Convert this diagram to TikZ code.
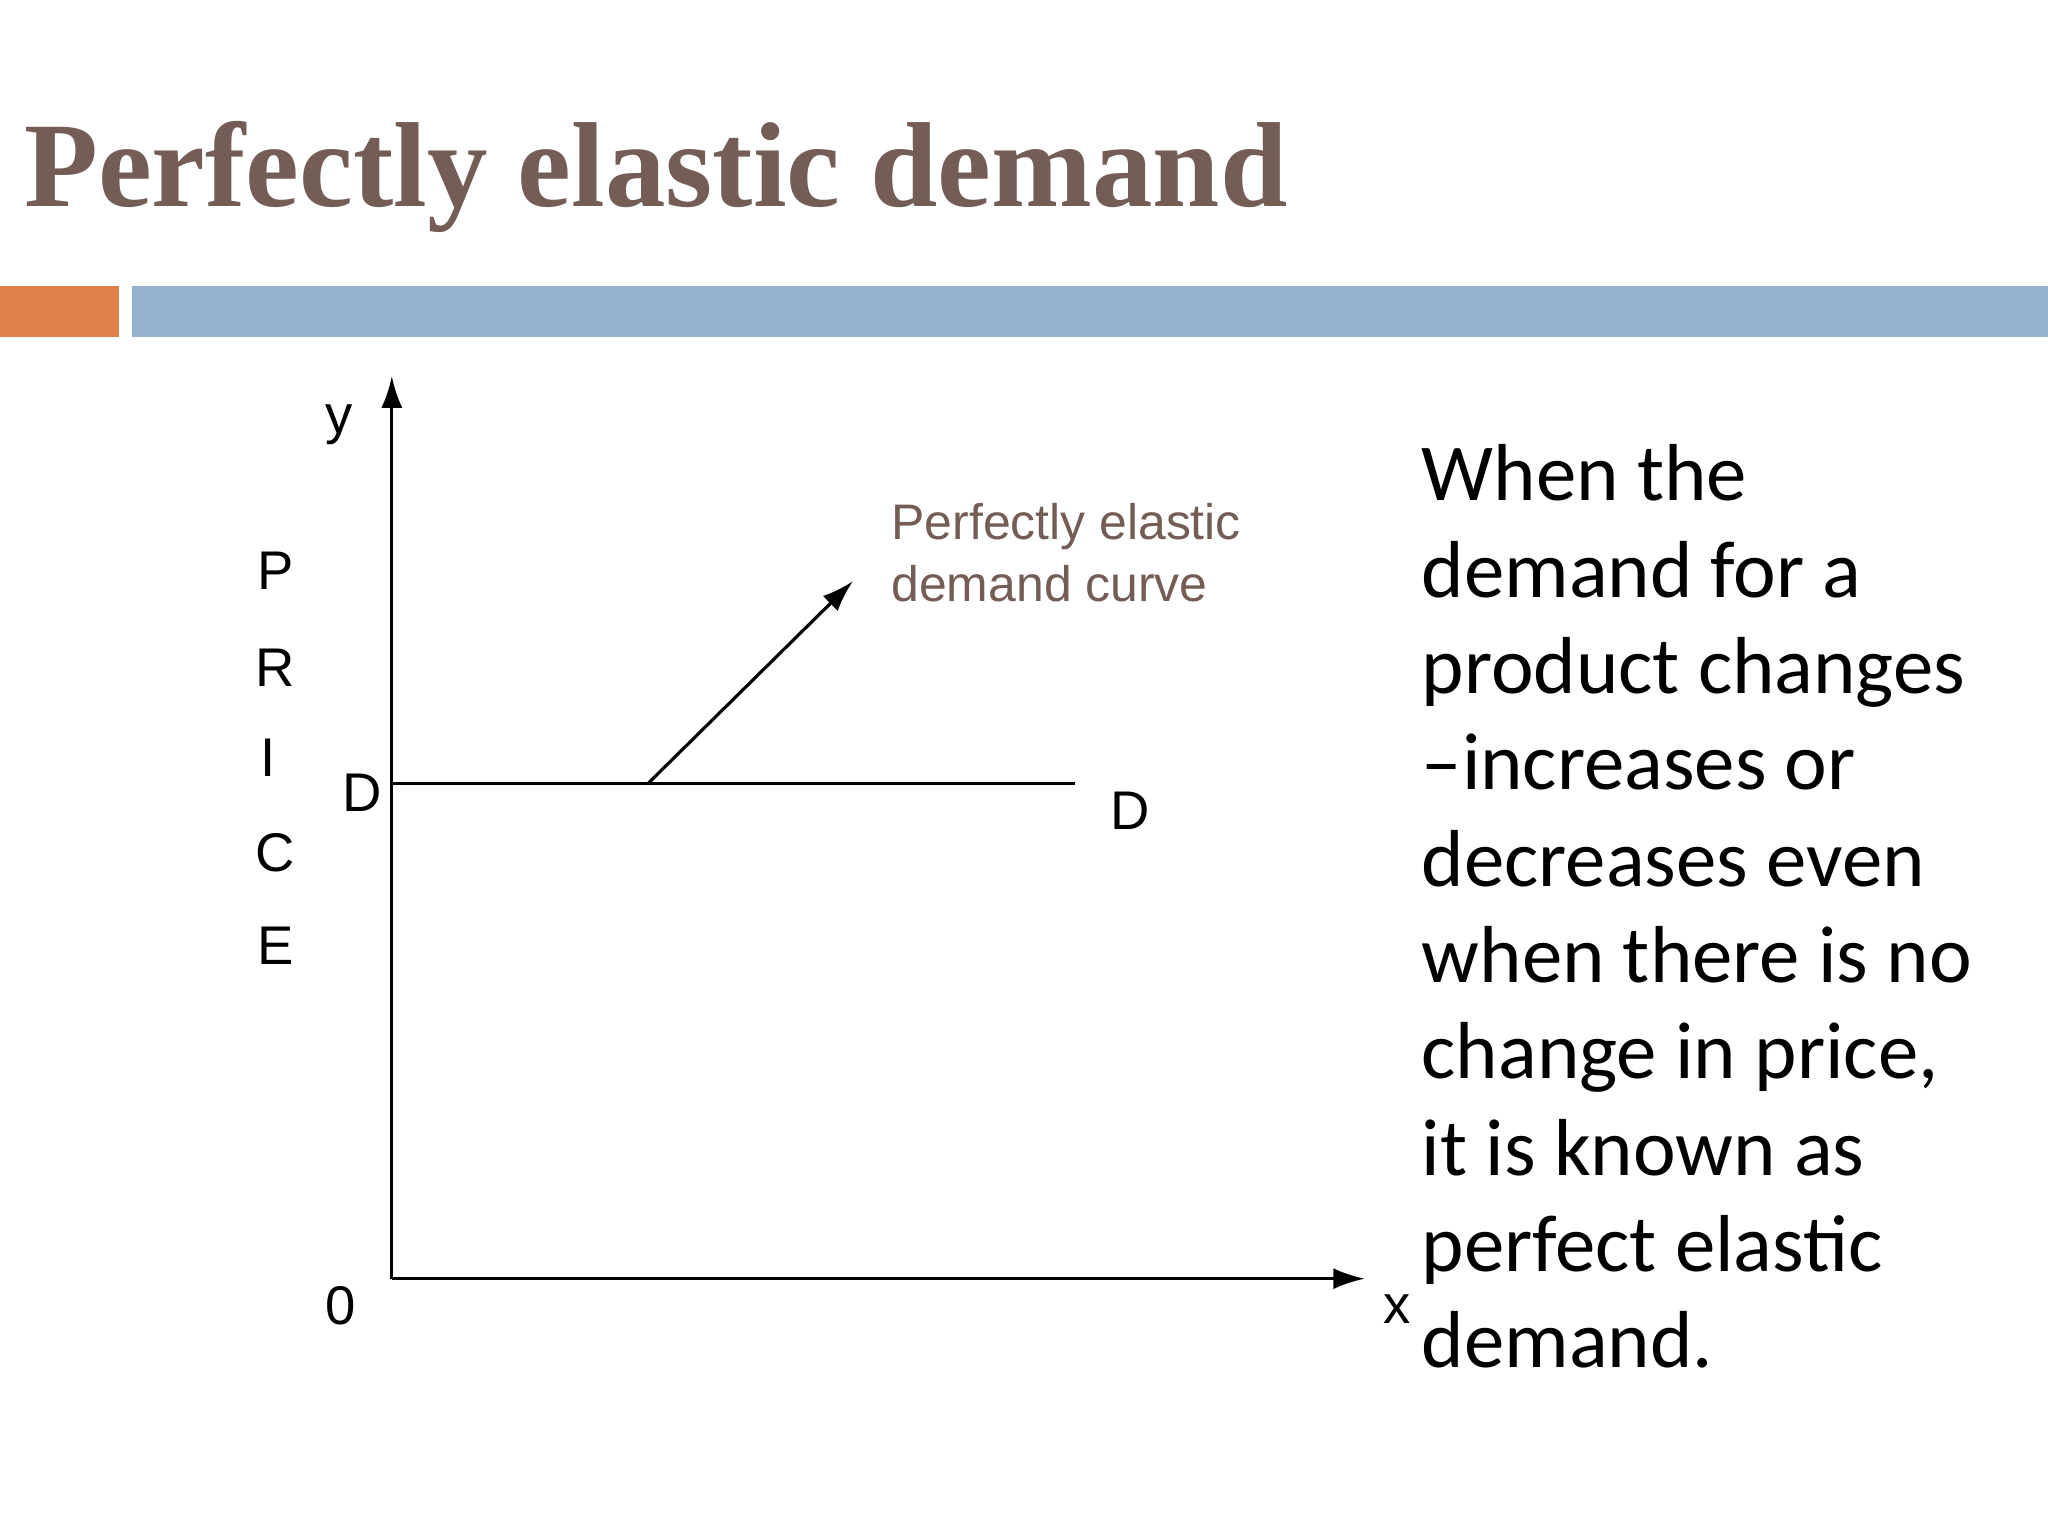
\documentclass[tikz,border=0pt]{standalone}
\usepackage{fontspec}
\setmainfont{Liberation Serif}
\newfontfamily\arialf{Liberation Sans}
\newfontfamily\calib{Carlito}
\usetikzlibrary{arrows.meta}
\definecolor{ttl}{HTML}{735D55}
\definecolor{orb}{HTML}{E0804A}
\definecolor{blb}{HTML}{95B3D0}
\tikzset{lab/.style={font=\arialf\fontsize{15.5}{18}\selectfont,inner sep=0pt},
axis/.style={line width=0.9pt,-{Latex[length=9pt,width=6pt]}}}
\begin{document}
\begin{tikzpicture}[x=0.013061cm,y=-0.013061cm]
\useasboundingbox (0,0) rectangle (1568,1176);
\fill[white] (0,0) rectangle (1568,1176);
\node[anchor=base west,inner sep=0pt,text=ttl] (title) at (18,158) {\resizebox{12.63cm}{!}{\fontsize{60}{60}\selectfont\bfseries Perfectly elastic demand}};
\fill[orb] (0,219) rectangle (91,258);
\fill[blb] (101,219) rectangle (1568,258);
\coordinate (O) at (300,979);
\coordinate (Y) at (300,288);
\coordinate (X) at (1045,979);
\coordinate (d1) at (300,600);
\coordinate (d2) at (823,600);
\coordinate (a1) at (496,600);
\coordinate (a2) at (653,445);
\draw[axis] (O) -- (Y);
\draw[axis] (O) -- (X);
\draw[line width=0.9pt] (d1) -- (d2);
\draw[line width=0.9pt,-{Latex[length=9pt,width=6pt]}] (a1) -- (a2);
\node[lab] (ly) at (260,325) {y};
\node[lab] (lp) at (211,437) {P};
\node[lab] (lr) at (211,511) {R};
\node[lab] (li) at (205,580) {I};
\node[lab] (lc) at (211,653) {C};
\node[lab] (le) at (211,724) {E};
\node[lab] (ld1) at (277,607) {D};
\node[lab] (ld2) at (865,621) {D};
\node[lab] (l0) at (261,1000) {0};
\node[lab] (lx) at (1070,1002) {x};
\node[anchor=north west,inner sep=0pt,text=ttl,align=left,font=\arialf\fontsize{14.2}{17.5}\selectfont] (cap) at (682,385) {Perfectly elastic\\demand curve};
\node[anchor=north west,inner sep=0pt,align=left,font=\calib\fontsize{23}{27.4}\selectfont] (txt) at (1088,340) {When the\\demand for a\\product changes\\–increases or\\decreases even\\when there is no\\change in price,\\it is known as\\perfect elastic\\demand.};
\end{tikzpicture}
\end{document}
